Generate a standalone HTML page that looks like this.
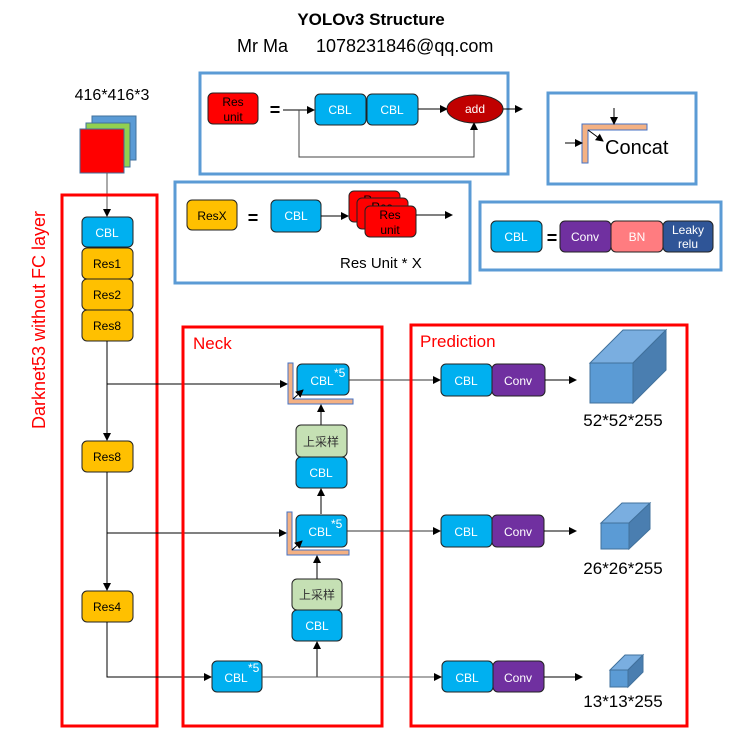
<!DOCTYPE html>
<html><head><meta charset="utf-8"><style>
body{margin:0;background:#fff;}
svg{display:block;font-family:"Liberation Sans","Noto Sans CJK SC",sans-serif;}
</style></head><body>
<svg width="756" height="756" viewBox="0 0 756 756" xmlns="http://www.w3.org/2000/svg">
<defs>
<marker id="a" markerWidth="8" markerHeight="8" refX="7" refY="4" orient="auto" markerUnits="userSpaceOnUse">
<path d="M0,0 L8,4 L0,8 z" fill="#000"/></marker>
</defs>
<rect width="756" height="756" fill="#fff"/>
<text x="371" y="25" font-size="17" font-weight="bold" text-anchor="middle">YOLOv3 Structure</text>
<text x="237" y="52" font-size="18">Mr Ma</text>
<text x="316" y="52" font-size="18">1078231846@qq.com</text>

<!-- legend box1 -->
<rect x="200" y="73" width="308" height="101" fill="none" stroke="#5b9bd5" stroke-width="3"/>
<rect x="208" y="93" width="50" height="31" rx="5" fill="#ff0000" stroke="#222"/>
<text x="233" y="106" font-size="12" text-anchor="middle">Res</text>
<text x="233" y="121" font-size="12" text-anchor="middle">unit</text>
<text x="275" y="116" font-size="18" font-weight="bold" text-anchor="middle">=</text>
<line x1="283" y1="110" x2="314" y2="110" stroke="#000" marker-end="url(#a)"/>
<polyline points="299,110 299,157 474,157 474,123" fill="none" stroke="#444" marker-end="url(#a)"/>
<rect x="315" y="94" width="51" height="31" rx="5" fill="#00b0f0" stroke="#222"/>
<rect x="367" y="94" width="51" height="31" rx="5" fill="#00b0f0" stroke="#222"/>
<text x="340" y="114" font-size="12" fill="#fff" text-anchor="middle">CBL</text>
<text x="392" y="114" font-size="12" fill="#fff" text-anchor="middle">CBL</text>
<line x1="418" y1="109" x2="447" y2="109" stroke="#000" marker-end="url(#a)"/>
<ellipse cx="475" cy="109" rx="28" ry="14" fill="#c00000" stroke="#222"/>
<text x="475" y="113" font-size="12" fill="#fff" text-anchor="middle">add</text>
<line x1="503" y1="109" x2="522" y2="109" stroke="#000" marker-end="url(#a)"/>

<!-- concat legend -->
<rect x="548" y="93" width="148" height="91" fill="none" stroke="#5b9bd5" stroke-width="3"/>
<path d="M582,124 H647 V130 H588 V163 H582 Z" fill="#f4b183" stroke="#4472c4" stroke-width="1"/>
<line x1="614" y1="108" x2="614" y2="124" stroke="#000" marker-end="url(#a)"/>
<line x1="565" y1="143" x2="582" y2="143" stroke="#000" marker-end="url(#a)"/>
<line x1="588" y1="130" x2="603" y2="141" stroke="#000" marker-end="url(#a)"/>
<text x="605" y="154" font-size="20">Concat</text>

<!-- ResX legend -->
<rect x="175" y="182" width="295" height="101" fill="none" stroke="#5b9bd5" stroke-width="3"/>
<rect x="187" y="200" width="50" height="30" rx="5" fill="#ffc000" stroke="#222"/>
<text x="212" y="220" font-size="12" text-anchor="middle">ResX</text>
<text x="253" y="224" font-size="18" font-weight="bold" text-anchor="middle">=</text>
<rect x="271" y="200" width="50" height="32" rx="5" fill="#00b0f0" stroke="#222"/>
<text x="296" y="220" font-size="12" fill="#fff" text-anchor="middle">CBL</text>
<line x1="321" y1="216" x2="348" y2="216" stroke="#000" marker-end="url(#a)"/>
<rect x="349" y="191" width="51" height="31" rx="5" fill="#ff0000" stroke="#222"/>
<text x="374" y="204" font-size="12" text-anchor="middle">Res</text>
<rect x="357" y="198" width="51" height="31" rx="5" fill="#ff0000" stroke="#222"/>
<text x="382" y="211" font-size="12" text-anchor="middle">Res</text>
<rect x="365" y="206" width="51" height="31" rx="5" fill="#ff0000" stroke="#222"/>
<text x="390" y="219" font-size="12" text-anchor="middle">Res</text>
<text x="390" y="234" font-size="12" text-anchor="middle">unit</text>
<line x1="416" y1="215" x2="452" y2="215" stroke="#000" marker-end="url(#a)"/>
<text x="340" y="268" font-size="15">Res Unit * X</text>

<!-- CBL legend -->
<rect x="480" y="202" width="241" height="68" fill="none" stroke="#5b9bd5" stroke-width="3"/>
<rect x="491" y="221" width="51" height="31" rx="5" fill="#00b0f0" stroke="#222"/>
<text x="516" y="241" font-size="12" fill="#fff" text-anchor="middle">CBL</text>
<text x="552" y="244" font-size="18" font-weight="bold" text-anchor="middle">=</text>
<rect x="560" y="221" width="51" height="31" rx="5" fill="#7030a0" stroke="#222"/>
<text x="585" y="241" font-size="12" fill="#fff" text-anchor="middle">Conv</text>
<rect x="611" y="221" width="52" height="31" rx="5" fill="#ff7c80" stroke="#222"/>
<text x="637" y="241" font-size="12" fill="#fff" text-anchor="middle">BN</text>
<rect x="663" y="221" width="50" height="31" rx="5" fill="#2f5597" stroke="#222"/>
<text x="688" y="234" font-size="12" fill="#fff" text-anchor="middle">Leaky</text>
<text x="688" y="248" font-size="12" fill="#fff" text-anchor="middle">relu</text>

<!-- input -->
<text x="112" y="100" font-size="16" text-anchor="middle">416*416*3</text>
<rect x="92" y="116" width="44" height="44" fill="#5b9bd5" stroke="#41719c"/>
<rect x="86" y="123" width="44" height="44" fill="#92d050" stroke="#41719c"/>
<rect x="80" y="129" width="44" height="44" fill="#ff0000" stroke="#41719c"/>
<line x1="107" y1="173" x2="107" y2="216" stroke="#555" marker-end="url(#a)"/>

<!-- backbone -->
<rect x="62" y="195" width="95" height="531" fill="none" stroke="#ff0000" stroke-width="3"/>
<text transform="translate(45,320) rotate(-90)" font-size="18" fill="#ff0000" text-anchor="middle">Darknet53 without FC layer</text>
<rect x="82" y="217" width="51" height="30" rx="5" fill="#00b0f0" stroke="#222"/>
<text x="107" y="237" font-size="12" fill="#fff" text-anchor="middle">CBL</text>
<rect x="82" y="248" width="51" height="31" rx="5" fill="#ffc000" stroke="#222"/>
<text x="107" y="268" font-size="12" text-anchor="middle">Res1</text>
<rect x="82" y="279" width="51" height="31" rx="5" fill="#ffc000" stroke="#222"/>
<text x="107" y="299" font-size="12" text-anchor="middle">Res2</text>
<rect x="82" y="310" width="51" height="31" rx="5" fill="#ffc000" stroke="#222"/>
<text x="107" y="330" font-size="12" text-anchor="middle">Res8</text>
<line x1="107" y1="341" x2="107" y2="440" stroke="#000" marker-end="url(#a)"/>
<rect x="82" y="441" width="51" height="31" rx="5" fill="#ffc000" stroke="#222"/>
<text x="107" y="461" font-size="12" text-anchor="middle">Res8</text>
<line x1="107" y1="472" x2="107" y2="590" stroke="#000" marker-end="url(#a)"/>
<rect x="82" y="591" width="51" height="31" rx="5" fill="#ffc000" stroke="#222"/>
<text x="107" y="611" font-size="12" text-anchor="middle">Res4</text>
<polyline points="107,622 107,677 211,677" fill="none" stroke="#000" marker-end="url(#a)"/>
<line x1="107" y1="384" x2="287" y2="384" stroke="#000" marker-end="url(#a)"/>
<line x1="107" y1="533" x2="286" y2="533" stroke="#000" marker-end="url(#a)"/>

<!-- neck -->
<rect x="183" y="327" width="199" height="399" fill="none" stroke="#ff0000" stroke-width="3"/>
<text x="193" y="349" font-size="17" fill="#ff0000">Neck</text>
<path d="M288,363 H293 V399 H353 V404 H288 Z" fill="#f4b183" stroke="#4472c4"/>
<rect x="297" y="364" width="52" height="31" rx="5" fill="#00b0f0" stroke="#222"/>
<text x="322" y="385" font-size="12" fill="#fff" text-anchor="middle">CBL</text>
<text x="334" y="377" font-size="12" fill="#fff">*5</text>
<line x1="293" y1="399" x2="303" y2="390" stroke="#000" marker-end="url(#a)"/>
<line x1="321" y1="425" x2="321" y2="405" stroke="#000" marker-end="url(#a)"/>
<rect x="296" y="425" width="51" height="32" rx="5" fill="#c5e0b4" stroke="#222"/>
<text x="321" y="446" font-size="12" fill="#333" text-anchor="middle">上采样</text>
<rect x="296" y="457" width="51" height="31" rx="5" fill="#00b0f0" stroke="#222"/>
<text x="321" y="477" font-size="12" fill="#fff" text-anchor="middle">CBL</text>
<line x1="321" y1="514" x2="321" y2="489" stroke="#000" marker-end="url(#a)"/>

<path d="M287,512 H292 V550 H349 V555 H287 Z" fill="#f4b183" stroke="#4472c4"/>
<rect x="296" y="515" width="51" height="32" rx="5" fill="#00b0f0" stroke="#222"/>
<text x="320" y="536" font-size="12" fill="#fff" text-anchor="middle">CBL</text>
<text x="331" y="528" font-size="12" fill="#fff">*5</text>
<line x1="292" y1="550" x2="302" y2="541" stroke="#000" marker-end="url(#a)"/>
<line x1="317" y1="579" x2="317" y2="556" stroke="#000" marker-end="url(#a)"/>
<rect x="292" y="579" width="50" height="31" rx="5" fill="#c5e0b4" stroke="#222"/>
<text x="317" y="599" font-size="12" fill="#333" text-anchor="middle">上采样</text>
<rect x="292" y="610" width="50" height="31" rx="5" fill="#00b0f0" stroke="#222"/>
<text x="317" y="630" font-size="12" fill="#fff" text-anchor="middle">CBL</text>
<line x1="317" y1="677" x2="317" y2="642" stroke="#000" marker-end="url(#a)"/>
<rect x="212" y="661" width="50" height="31" rx="5" fill="#00b0f0" stroke="#222"/>
<text x="236" y="682" font-size="12" fill="#fff" text-anchor="middle">CBL</text>
<text x="248" y="672" font-size="12" fill="#fff">*5</text>
<line x1="262" y1="677" x2="441" y2="677" stroke="#555" marker-end="url(#a)"/>
<line x1="349" y1="380" x2="440" y2="380" stroke="#333" marker-end="url(#a)"/>
<line x1="347" y1="531" x2="440" y2="531" stroke="#333" marker-end="url(#a)"/>

<!-- prediction -->
<rect x="411" y="325" width="276" height="401" fill="none" stroke="#ff0000" stroke-width="3"/>
<text x="420" y="347" font-size="17" fill="#ff0000">Prediction</text>
<g font-size="12" fill="#fff" text-anchor="middle">
<rect x="441" y="364" width="51" height="32" rx="5" fill="#00b0f0" stroke="#222"/>
<text x="466" y="385">CBL</text>
<rect x="492" y="364" width="53" height="32" rx="5" fill="#7030a0" stroke="#222"/>
<text x="518" y="385">Conv</text>
<rect x="441" y="515" width="51" height="32" rx="5" fill="#00b0f0" stroke="#222"/>
<text x="466" y="536">CBL</text>
<rect x="492" y="515" width="52" height="32" rx="5" fill="#7030a0" stroke="#222"/>
<text x="518" y="536">Conv</text>
<rect x="442" y="661" width="51" height="31" rx="5" fill="#00b0f0" stroke="#222"/>
<text x="467" y="682">CBL</text>
<rect x="493" y="661" width="51" height="31" rx="5" fill="#7030a0" stroke="#222"/>
<text x="518" y="682">Conv</text>
</g>
<line x1="545" y1="380" x2="576" y2="380" stroke="#000" marker-end="url(#a)"/>
<line x1="544" y1="531" x2="576" y2="531" stroke="#000" marker-end="url(#a)"/>
<line x1="544" y1="677" x2="582" y2="677" stroke="#000" marker-end="url(#a)"/>

<!-- cubes -->
<g stroke="#41719c" stroke-width="1">
<polygon points="590,363 623,330 666,330 633,363" fill="#7aaee0"/>
<polygon points="633,363 666,330 666,370 633,403" fill="#4a7eb0"/>
<rect x="590" y="363" width="43" height="40" fill="#5b9bd5"/>
<polygon points="601,523 622,503 650,503 629,523" fill="#7aaee0"/>
<polygon points="629,523 650,503 650,529 629,549" fill="#4a7eb0"/>
<rect x="601" y="523" width="28" height="26" fill="#5b9bd5"/>
<polygon points="610,670 625,655 643,655 628,670" fill="#7aaee0"/>
<polygon points="628,670 643,655 643,672 628,687" fill="#4a7eb0"/>
<rect x="610" y="670" width="18" height="17" fill="#5b9bd5"/>
</g>
<text x="623" y="426" font-size="17" text-anchor="middle">52*52*255</text>
<text x="623" y="574" font-size="17" text-anchor="middle">26*26*255</text>
<text x="623" y="707" font-size="17" text-anchor="middle">13*13*255</text>
</svg>
</body></html>
